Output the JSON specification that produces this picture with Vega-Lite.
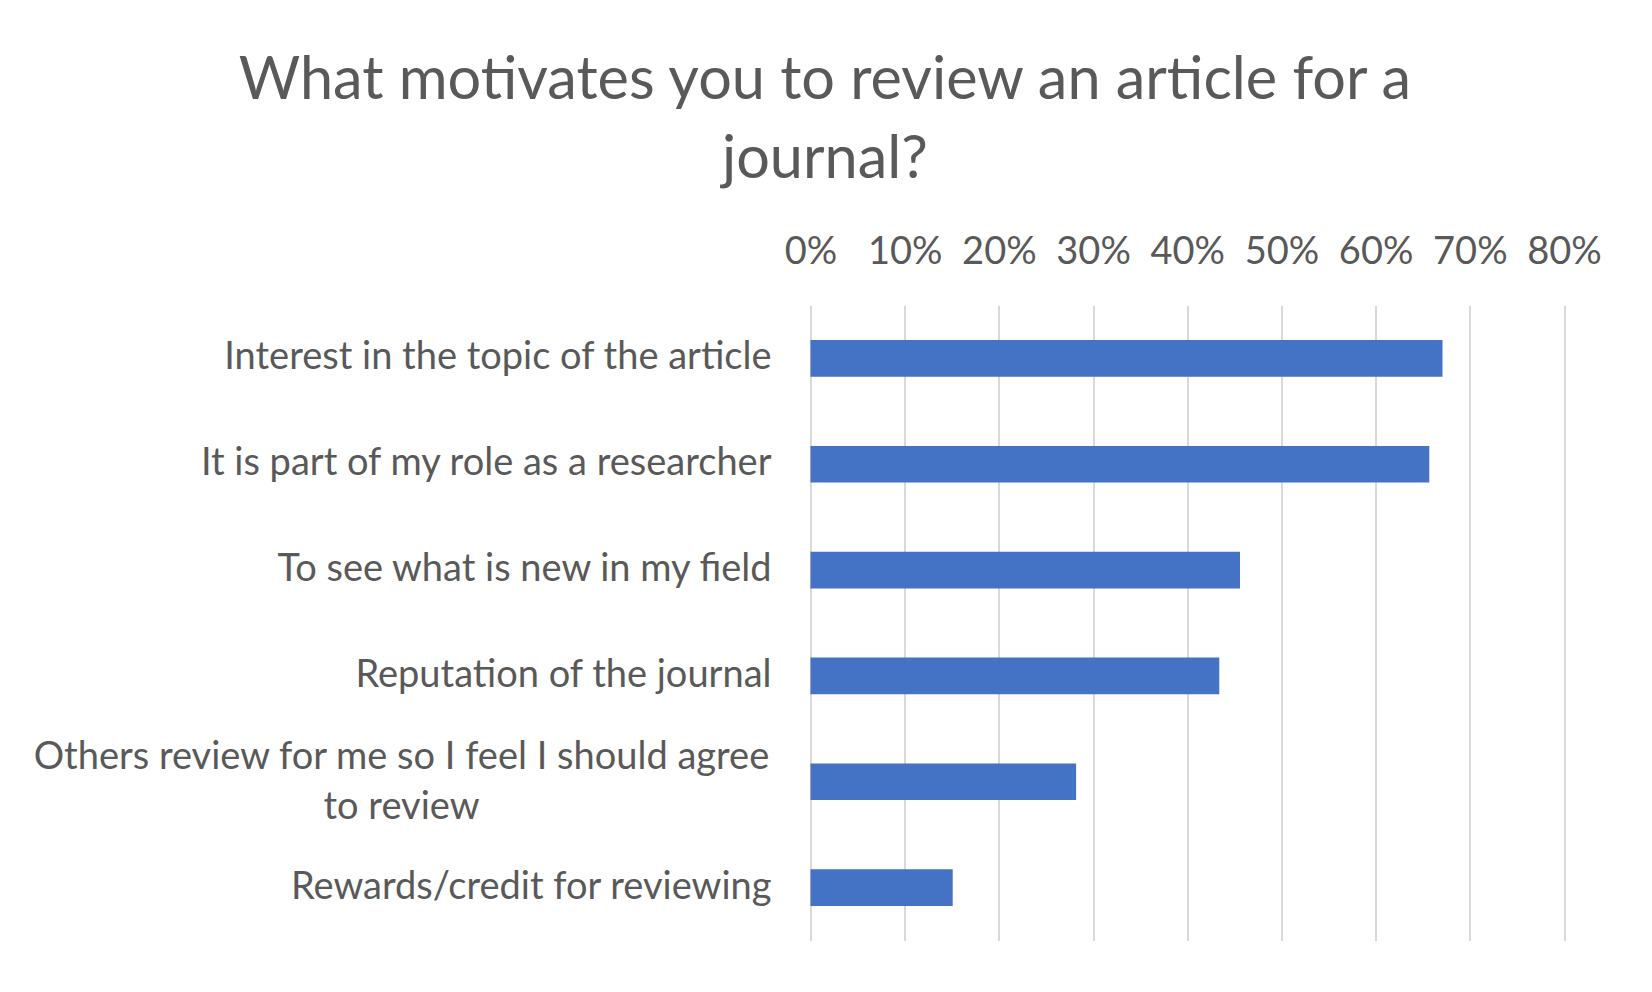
{
  "$schema": "https://vega.github.io/schema/vega-lite/v6.json",
  "width": 753.5,
  "height": 635,
  "autosize": {"type": "none"},
  "padding": {"left": 810.5, "top": 305.5, "right": 88, "bottom": 51.5},
  "background": "#ffffff",
  "title": {
    "text": ["What motivates you to review an article for a", "journal?"],
    "anchor": "middle",
    "frame": "bounds",
    "font": "Lato",
    "fontSize": 59.4,
    "fontWeight": "normal",
    "color": "#595959",
    "lineHeight": 79,
    "offset": 43,
    "dx": 8
  },
  "data": {
    "values": [
      {"motivation": "Interest in the topic of the article", "share": 0.671},
      {"motivation": "It is part of my role as a researcher", "share": 0.657},
      {"motivation": "To see what is new in my field", "share": 0.456},
      {"motivation": "Reputation of the journal", "share": 0.434},
      {"motivation": "Others review for me so I feel I should agree to review", "share": 0.282},
      {"motivation": "Rewards/credit for reviewing", "share": 0.151}
    ]
  },
  "mark": {"type": "bar", "color": "#4472C4"},
  "encoding": {
    "y": {
      "field": "motivation",
      "type": "nominal",
      "sort": null,
      "title": null,
      "scale": {"paddingInner": 0.653, "paddingOuter": 0.3265},
      "axis": {
        "orient": "left",
        "domain": false,
        "ticks": false,
        "grid": false,
        "labelFont": "Lato",
        "labelFontSize": 38,
        "labelColor": "#595959",
        "labelLimit": 0,
        "labelLineHeight": 50.6,
        "labelBaseline": "middle",
        "labelAlign": {"condition": {"test": "datum.value == 'Others review for me so I feel I should agree to review'", "value": "center"}, "value": "right"},
        "labelPadding": {"condition": {"test": "datum.value == 'Others review for me so I feel I should agree to review'", "value": 409.5}, "value": 39.5},
        "labelOffset": {"condition": {"test": "datum.value == 'Others review for me so I feel I should agree to review'", "value": -24}, "value": 0},
        "labelExpr": "datum.value == 'Others review for me so I feel I should agree to review' ? ['Others review for me so I feel I should agree', 'to review'] : datum.label"
      }
    },
    "x": {
      "field": "share",
      "type": "quantitative",
      "title": null,
      "scale": {"domain": [0, 0.8], "nice": false},
      "axis": {
        "orient": "top",
        "values": [0, 0.1, 0.2, 0.3, 0.4, 0.5, 0.6, 0.7, 0.8],
        "format": ".0%",
        "domain": false,
        "ticks": false,
        "grid": true,
        "gridColor": "#d9d9d9",
        "gridWidth": 2,
        "labelFont": "Lato",
        "labelFontSize": 38,
        "labelColor": "#595959",
        "labelBaseline": "alphabetic",
        "labelPadding": 42.5,
        "labelFlush": false
      }
    }
  },
  "config": {"view": {"stroke": null}}
}
